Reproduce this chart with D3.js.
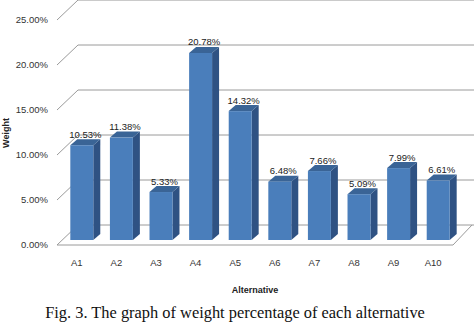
<!DOCTYPE html>
<html><head><meta charset="utf-8">
<script src="https://cdn.jsdelivr.net/npm/d3@7"></script>
<style>body{margin:0;background:#fff}svg{display:block}</style>
</head><body>
<svg id="c" width="474" height="323"></svg>
<script>
const categories = ["A1","A2","A3","A4","A5","A6","A7","A8","A9","A10"];
const weights = [10.53, 11.38, 5.33, 20.78, 14.32, 6.48, 7.66, 5.09, 7.99, 6.61];
const yTicks = [0, 5, 10, 15, 20, 25];
const yTitle = "Weight";
const xTitle = "Alternative";
const caption = "Fig. 3. The graph of weight percentage of each alternative";

const svg = d3.select("#c");
const font = "'Liberation Sans', Arial, sans-serif";
// 3D offsets
const wallDx = 21, wallDy = -20;   // front axis -> back wall
const barDx = 5, barDy = -5;       // front axis -> bar front plane
const depX = 7, depY = -6;         // bar depth

const x = d3.scaleBand().domain(categories).range([57, 453]).paddingInner(0.42).paddingOuter(0.21);
const y = d3.scaleLinear().domain([0, 25]).range([245, 20]);
const x0 = 57, x1 = 453;

const g = svg.append("g");
// back wall gridlines and left wall diagonals
yTicks.forEach(t => {
  const yy = y(t);
  g.append("line").attr("x1", x0 + wallDx).attr("x2", 474).attr("y1", yy + wallDy).attr("y2", yy + wallDy)
    .attr("stroke", t === 25 ? "#b8b8b8" : "#9a9a9a").attr("stroke-width", t === 25 ? 1.6 : 1);
  g.append("line").attr("x1", x0).attr("y1", yy).attr("x2", x0 + wallDx).attr("y2", yy + wallDy)
    .attr("stroke", "#9a9a9a").attr("stroke-width", 1);
  g.append("text").attr("x", 48).attr("y", yy).attr("dy", "0.35em").attr("text-anchor", "end")
    .attr("font-family", font).attr("font-size", 9.5).attr("fill", "#333")
    .text(t.toFixed(2) + "%");
});
// floor outline
g.append("path").attr("d", `M${x0},${y(0)}L${x1},${y(0)}L${x1 + 19},${y(0) + wallDy}`)
  .attr("fill", "none").attr("stroke", "#9a9a9a").attr("stroke-width", 1);

// bars
const bars = g.selectAll("g.bar").data(categories.map((c, i) => ({c, v: weights[i]}))).join("g").attr("class", "bar");
bars.each(function(d) {
  const s = d3.select(this);
  const bx = x(d.c) + barDx, bw = x.bandwidth();
  const by = y(d.v) + barDy, bb = y(0) + barDy;
  // side
  s.append("path").attr("d", `M${bx + bw},${by}L${bx + bw + depX},${by + depY}L${bx + bw + depX},${bb + depY}L${bx + bw},${bb}Z`)
    .attr("fill", "#2f5283");
  // top
  s.append("path").attr("d", `M${bx},${by}L${bx + depX},${by + depY}L${bx + bw + depX},${by + depY}L${bx + bw},${by}Z`)
    .attr("fill", "#3a6496");
  // front
  s.append("rect").attr("x", bx).attr("y", by).attr("width", bw).attr("height", bb - by).attr("fill", "#4a7ebb");
  // label
  s.append("text").attr("x", bx + bw / 2 + depX / 2).attr("y", by + depY - 1.5).attr("text-anchor", "middle")
    .attr("font-family", font).attr("font-size", 9.5).attr("fill", "#222")
    .text(d.v.toFixed(2) + "%");
});

// x tick labels
categories.forEach(c => {
  g.append("text").attr("x", x(c) + x.bandwidth() / 2).attr("y", 266).attr("text-anchor", "middle")
    .attr("font-family", font).attr("font-size", 9.5).attr("fill", "#333").text(c);
});
// axis titles
g.append("text").attr("x", 255).attr("y", 293).attr("text-anchor", "middle")
  .attr("font-family", font).attr("font-size", 9).attr("font-weight", "bold").attr("fill", "#222").text(xTitle);
g.append("text").attr("transform", "translate(9,133) rotate(-90)").attr("text-anchor", "middle")
  .attr("font-family", font).attr("font-size", 9).attr("font-weight", "bold").attr("fill", "#222").text(yTitle);
// caption
svg.append("text").attr("x", 235).attr("y", 318).attr("text-anchor", "middle")
  .attr("font-family", "'Liberation Serif', 'Times New Roman', serif").attr("font-size", 16.4).attr("fill", "#111").text(caption);
</script>
</body></html>
